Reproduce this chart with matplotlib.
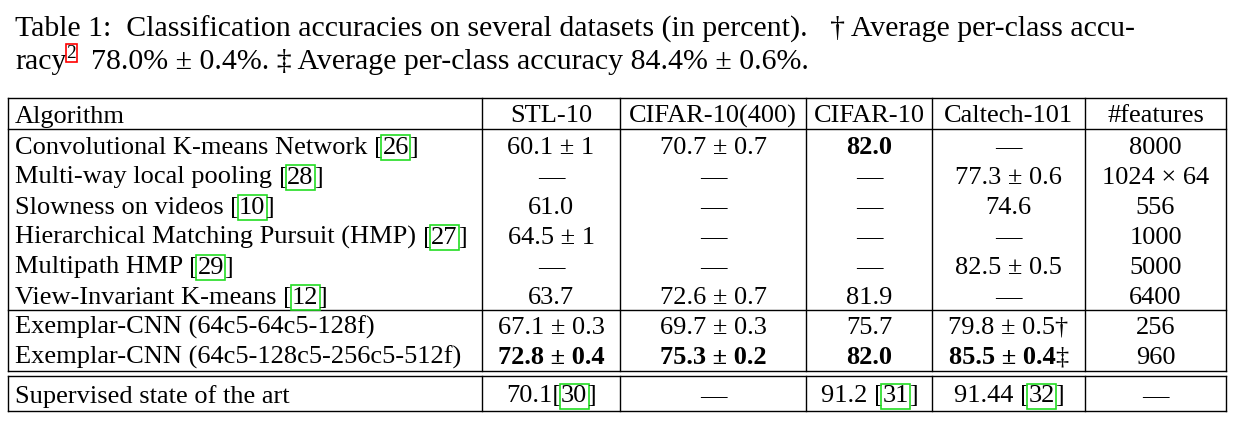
import matplotlib
matplotlib.use("Agg")
import matplotlib.pyplot as plt

W, H = 1239, 426
fig = plt.figure(figsize=(W/100, H/100), dpi=100)
ax = fig.add_axes([0, 0, 1, 1])
ax.set_xlim(0, W); ax.set_ylim(H, 0); ax.axis("off")
FONT = "Liberation Serif"

headers = ["Algorithm", "STL-10", "CIFAR-10(400)", "CIFAR-10", "Caltech-101", "#features"]
algos = [("Convolutional K-means Network ", "26"), ("Multi-way local pooling ", "28"),
         ("Slowness on videos ", "10"), ("Hierarchical Matching Pursuit (HMP) ", "27"),
         ("Multipath HMP ", "29"), ("View-Invariant K-means ", "12"),
         ("Exemplar-CNN (64c5-64c5-128f)", None), ("Exemplar-CNN (64c5-128c5-256c5-512f)", None),
         ("Supervised state of the art", None)]
stl = [[("60.1 ± 1", "n")], [("—", "n")], [("61.0", "n")], [("64.5 ± 1", "n")], [("—", "n")],
       [("63.7", "n")], [("67.1 ± 0.3", "n")], [("72.8 ± 0.4", "b")], [("70.1[", "n"), ("30", "c"), ("]", "n")]]
c400 = [[("70.7 ± 0.7", "n")], [("—", "n")], [("—", "n")], [("—", "n")], [("—", "n")],
        [("72.6 ± 0.7", "n")], [("69.7 ± 0.3", "n")], [("75.3 ± 0.2", "b")], [("—", "n")]]
c10 = [[("82.0", "b")], [("—", "n")], [("—", "n")], [("—", "n")], [("—", "n")],
       [("81.9", "n")], [("75.7", "n")], [("82.0", "b")], [("91.2 [", "n"), ("31", "c"), ("]", "n")]]
cal = [[("—", "n")], [("77.3 ± 0.6", "n")], [("74.6", "n")], [("—", "n")], [("82.5 ± 0.5", "n")],
       [("—", "n")], [("79.8 ± 0.5†", "n")], [("85.5 ± 0.4", "b"), ("‡", "n")],
       [("91.44 [", "n"), ("32", "c"), ("]", "n")]]
feats = ["8000", "1024 × 64", "556", "1000", "5000", "6400", "256", "960", "—"]

fig.canvas.draw()
R = fig.canvas.get_renderer()

def segs_draw(x, y, segs, ha="left", size=19, justify=None):
    texts = []
    for t, st in segs:
        kw = dict(fontsize=size, family=FONT, va="center_baseline")
        if st == "b":
            kw["weight"] = "bold"
        if st in ("c", "r"):
            kw["bbox"] = dict(boxstyle="square,pad=0.05", fc="none",
                              ec=("#22dd22" if st == "c" else "red"), lw=1.2)
        if st == "r":
            kw["fontsize"] = size * 0.65
        texts.append(ax.text(0, y - (8 if st == "r" else 0), t, **kw))
    widths = [tx.get_window_extent(R).width for tx in texts]
    total = sum(widths)
    cx = x - total / 2 if ha == "center" else x
    for tx, w in zip(texts, widths):
        tx.set_x(cx); cx += w
    return cx

# caption
segs_draw(15, 26, [("Table 1:  Classification accuracies on several datasets (in percent).   † Average per-class accu-", "n")], size=21.5)
segs_draw(15, 59, [("racy", "n"), ("2", "r"), ("  78.0% ± 0.4%. ‡ Average per-class accuracy 84.4% ± 0.6%.", "n")], size=21.5)

cols = [8, 482, 620, 806, 932, 1085, 1226]
top, hdr_b, mid, d1, d2, bot = 98, 129, 310, 371, 376, 411
for yy in (top, hdr_b, mid, d1, d2, bot):
    ax.plot([cols[0], cols[-1]], [yy, yy], color="black", lw=1)
for x in cols:
    for y0, y1 in ((top, d1), (d2, bot)):
        ax.plot([x, x], [y0, y1], color="black", lw=1)

rows_y = [145, 175, 205, 235, 265, 295, 325, 355, 394]
hy = 114
segs_draw(15, hy, [(headers[0], "n")])
for i in range(1, 6):
    segs_draw((cols[i] + cols[i+1]) / 2, hy, [(headers[i], "n")], ha="center")
for r, y in enumerate(rows_y):
    name, cite = algos[r]
    segs = [(name, "n")] + ([("[", "n"), (cite, "c"), ("]", "n")] if cite else [])
    segs_draw(15, y, segs)
    for ci, col in enumerate([stl, c400, c10, cal], start=1):
        segs_draw((cols[ci] + cols[ci+1]) / 2, y, col[r], ha="center")
    segs_draw((cols[5] + cols[6]) / 2, y, [(feats[r], "n")], ha="center")

fig.savefig("out.png", dpi=100)
